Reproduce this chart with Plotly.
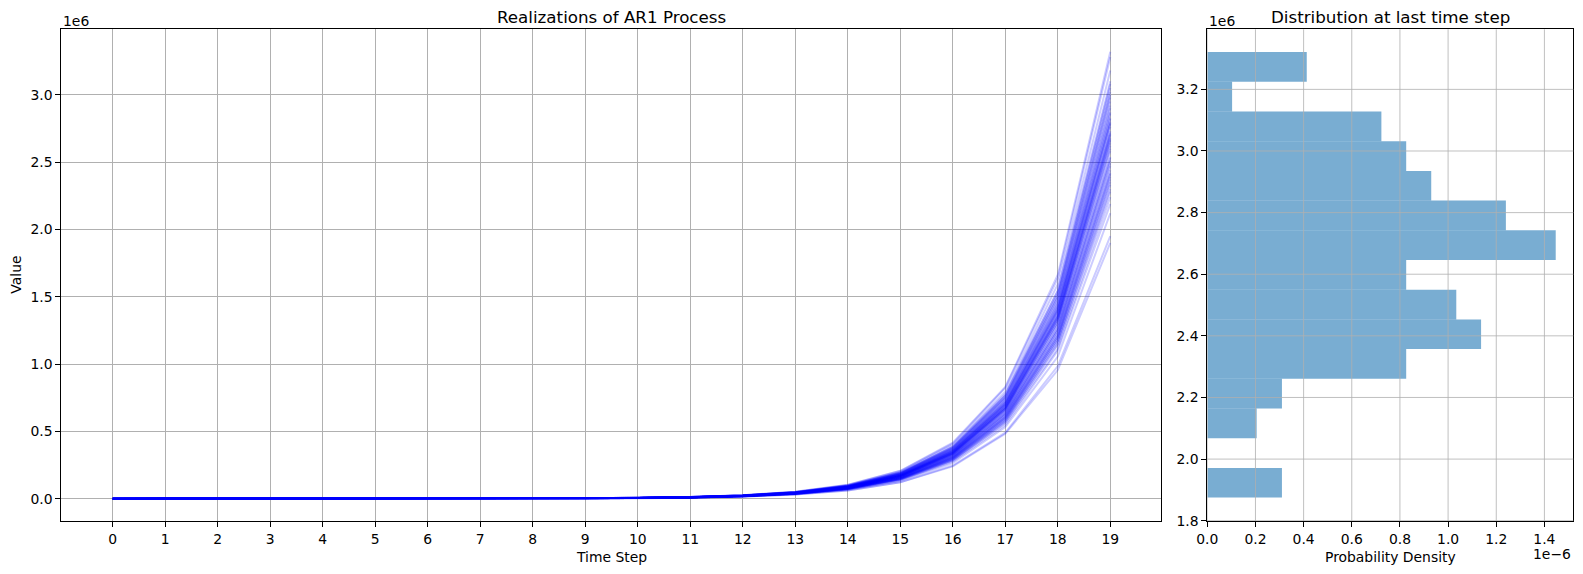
import plotly.graph_objects as go

# ---------------- data ----------------
steps = list(range(20))

# realizations (values in thousands), steps 0..19
paths_k = [
    [0, 0, 0, 0, 0, 0.1, 0.2, 0.5, 0.9, 1.9, 3.7, 7.5, 15.0, 30.0, 60, 121, 240, 482, 955, 1900],
    [0, 0, 0, 0, 0, 0.1, 0.2, 0.5, 1.0, 1.9, 3.8, 7.6, 15.2, 30.5, 61, 122, 246, 490, 985, 1950],
    [0, 0, 0, 0, 0, 0.1, 0.3, 0.5, 1.0, 2.1, 4.1, 8.3, 16.5, 33.0, 66, 133, 264, 532, 1055, 2120],
    [0, 0, 0, 0, 0, 0.1, 0.3, 0.5, 1.1, 2.1, 4.3, 8.6, 17.0, 34.0, 68, 137, 275, 546, 1100, 2190],
    [0, 0, 0, 0, 0, 0.1, 0.3, 0.6, 1.1, 2.2, 4.4, 8.8, 17.5, 35.0, 70, 141, 280, 562, 1115, 2240],
    [0, 0, 0, 0, 0, 0.1, 0.3, 0.6, 1.1, 2.2, 4.4, 8.9, 17.8, 35.6, 71, 142, 286, 568, 1145, 2280],
    [0, 0, 0, 0, 0, 0.1, 0.3, 0.6, 1.1, 2.2, 4.5, 9.0, 18.0, 36.0, 72, 144, 287, 577, 1148, 2300],
    [0, 0, 0, 0, 0, 0.1, 0.3, 0.6, 1.1, 2.3, 4.6, 9.1, 18.2, 36.4, 73, 146, 292, 581, 1170, 2330],
    [0, 0, 0, 0, 0, 0.1, 0.3, 0.6, 1.1, 2.3, 4.6, 9.2, 18.4, 36.7, 73, 147, 293, 589, 1172, 2350],
    [0, 0, 0, 0, 0, 0.1, 0.3, 0.6, 1.2, 2.3, 4.6, 9.3, 18.5, 37.0, 74, 148, 297, 591, 1190, 2370],
    [0, 0, 0, 0, 0, 0.1, 0.3, 0.6, 1.2, 2.3, 4.7, 9.3, 18.7, 37.3, 75, 150, 298, 600, 1192, 2390],
    [0, 0, 0, 0, 0, 0.1, 0.3, 0.6, 1.2, 2.4, 4.7, 9.4, 18.8, 37.6, 75, 151, 302, 601, 1208, 2410],
    [0, 0, 0, 0, 0, 0.1, 0.3, 0.6, 1.2, 2.4, 4.7, 9.5, 18.9, 37.8, 76, 151, 302, 607, 1207, 2420],
    [0, 0, 0, 0, 0, 0.1, 0.3, 0.6, 1.2, 2.4, 4.8, 9.5, 19.1, 38.1, 76, 152, 306, 609, 1223, 2440],
    [0, 0, 0, 0, 0, 0.1, 0.3, 0.6, 1.2, 2.4, 4.8, 9.6, 19.3, 38.6, 77, 155, 308, 619, 1232, 2470],
    [0, 0, 0, 0, 0, 0.2, 0.3, 0.6, 1.2, 2.4, 4.9, 9.7, 19.5, 38.9, 78, 155, 312, 621, 1249, 2490],
    [0, 0, 0, 0, 0, 0.2, 0.3, 0.6, 1.2, 2.5, 4.9, 9.8, 19.6, 39.2, 78, 157, 313, 630, 1252, 2510],
    [0, 0, 0, 0, 0, 0.2, 0.3, 0.6, 1.2, 2.5, 4.9, 9.9, 19.8, 39.5, 79, 158, 317, 631, 1268, 2530],
    [0, 0, 0, 0, 0, 0.2, 0.3, 0.6, 1.2, 2.5, 5.0, 9.9, 19.8, 39.7, 79, 159, 317, 637, 1267, 2540],
    [0, 0, 0, 0, 0, 0.2, 0.3, 0.6, 1.3, 2.5, 5.0, 10.1, 20.2, 40.3, 81, 161, 323, 644, 1293, 2580],
    [0, 0, 0, 0, 0, 0.2, 0.3, 0.6, 1.3, 2.5, 5.1, 10.2, 20.3, 40.6, 81, 163, 324, 652, 1297, 2600],
    [0, 0, 0, 0, 0, 0.2, 0.3, 0.6, 1.3, 2.6, 5.1, 10.2, 20.5, 40.9, 82, 164, 328, 654, 1313, 2620],
    [0, 0, 0, 0, 0, 0.2, 0.3, 0.6, 1.3, 2.6, 5.2, 10.3, 20.6, 41.3, 82, 165, 329, 662, 1317, 2640],
    [0, 0, 0, 0, 0, 0.2, 0.3, 0.7, 1.3, 2.6, 5.2, 10.4, 20.8, 41.6, 83, 166, 333, 664, 1333, 2660],
    [0, 0, 0, 0, 0, 0.2, 0.3, 0.7, 1.3, 2.6, 5.2, 10.4, 20.9, 41.7, 83, 167, 333, 669, 1332, 2670],
    [0, 0, 0, 0, 0, 0.2, 0.3, 0.7, 1.3, 2.6, 5.2, 10.5, 20.9, 41.9, 84, 167, 336, 669, 1343, 2680],
    [0, 0, 0, 0, 0, 0.2, 0.3, 0.7, 1.3, 2.6, 5.3, 10.5, 21.1, 42.2, 84, 169, 337, 677, 1347, 2700],
    [0, 0, 0, 0, 0, 0.2, 0.3, 0.7, 1.3, 2.6, 5.3, 10.6, 21.2, 42.3, 85, 169, 339, 676, 1358, 2710],
    [0, 0, 0, 0, 0, 0.2, 0.3, 0.7, 1.3, 2.7, 5.3, 10.6, 21.3, 42.5, 85, 170, 339, 682, 1357, 2720],
    [0, 0, 0, 0, 0, 0.2, 0.3, 0.7, 1.3, 2.7, 5.3, 10.7, 21.3, 42.7, 85, 170, 342, 681, 1368, 2730],
    [0, 0, 0, 0, 0, 0.2, 0.3, 0.7, 1.3, 2.7, 5.4, 10.8, 21.6, 43.1, 86, 173, 344, 692, 1377, 2760],
    [0, 0, 0, 0, 0, 0.2, 0.3, 0.7, 1.4, 2.7, 5.4, 10.9, 21.7, 43.4, 87, 173, 348, 694, 1393, 2780],
    [0, 0, 0, 0, 0, 0.2, 0.3, 0.7, 1.4, 2.7, 5.4, 10.9, 21.8, 43.6, 87, 175, 348, 700, 1392, 2790],
    [0, 0, 0, 0, 0, 0.2, 0.3, 0.7, 1.4, 2.7, 5.5, 10.9, 21.9, 43.8, 88, 175, 351, 699, 1403, 2800],
    [0, 0, 0, 0, 0, 0.2, 0.3, 0.7, 1.4, 2.8, 5.5, 11.0, 22.0, 44.1, 88, 177, 352, 707, 1407, 2820],
    [0, 0, 0, 0, 0, 0.2, 0.3, 0.7, 1.4, 2.8, 5.5, 11.1, 22.1, 44.2, 89, 176, 355, 706, 1418, 2830],
    [0, 0, 0, 0, 0, 0.2, 0.3, 0.7, 1.4, 2.8, 5.6, 11.2, 22.3, 44.7, 89, 179, 357, 717, 1427, 2860],
    [0, 0, 0, 0, 0, 0.2, 0.3, 0.7, 1.4, 2.8, 5.6, 11.2, 22.4, 44.8, 90, 179, 360, 716, 1438, 2870],
    [0, 0, 0, 0, 0, 0.2, 0.4, 0.7, 1.4, 2.8, 5.7, 11.3, 22.7, 45.3, 91, 182, 362, 727, 1447, 2900],
    [0, 0, 0, 0, 0, 0.2, 0.4, 0.7, 1.4, 2.9, 5.7, 11.4, 22.8, 45.6, 91, 182, 366, 728, 1463, 2920],
    [0, 0, 0, 0, 0, 0.2, 0.4, 0.7, 1.4, 2.9, 5.8, 11.5, 23.0, 46.1, 92, 185, 368, 740, 1472, 2950],
    [0, 0, 0, 0, 0, 0.2, 0.4, 0.7, 1.5, 2.9, 5.8, 11.6, 23.3, 46.6, 93, 186, 373, 744, 1493, 2980],
    [0, 0, 0, 0, 0, 0.2, 0.4, 0.7, 1.5, 2.9, 5.9, 11.7, 23.4, 46.9, 94, 188, 374, 752, 1497, 3000],
    [0, 0, 0, 0, 0, 0.2, 0.4, 0.7, 1.5, 2.9, 5.9, 11.8, 23.6, 47.2, 94, 188, 378, 754, 1513, 3020],
    [0, 0, 0, 0, 0, 0.2, 0.4, 0.7, 1.5, 3.0, 6.0, 11.9, 23.8, 47.7, 95, 191, 380, 765, 1522, 3050],
    [0, 0, 0, 0, 0, 0.2, 0.4, 0.8, 1.5, 3.0, 6.0, 12.0, 24.1, 48.1, 96, 192, 385, 769, 1543, 3080],
    [0, 0, 0, 0, 0, 0.2, 0.4, 0.8, 1.5, 3.0, 6.1, 12.1, 24.2, 48.4, 97, 194, 387, 777, 1547, 3100],
    [0, 0, 0, 0, 0, 0.2, 0.4, 0.8, 1.6, 3.1, 6.2, 12.4, 24.8, 49.7, 99, 198, 398, 794, 1593, 3180],
    [0, 0, 0, 0, 0, 0.2, 0.4, 0.8, 1.6, 3.2, 6.4, 12.8, 25.6, 51.3, 102, 205, 409, 822, 1637, 3280],
    [0, 0, 0, 0, 0, 0.2, 0.4, 0.8, 1.6, 3.2, 6.5, 13.0, 25.9, 51.9, 104, 207, 416, 829, 1663, 3320],
]

step_ticks = list(range(20))
value_ticks_m = [0.0, 0.5, 1.0, 1.5, 2.0, 2.5, 3.0]
value_tick_text = ["0.0", "0.5", "1.0", "1.5", "2.0", "2.5", "3.0"]

# histogram of values at last time step (edges in millions, density in 1e-6)
hist_edges_m = [1.875, 1.971, 2.068, 2.164, 2.261, 2.357, 2.453, 2.550,
                2.646, 2.743, 2.839, 2.935, 3.032, 3.128, 3.225, 3.321]
hist_density_u = [0.31, 0.0, 0.205, 0.31, 0.826, 1.137, 1.034, 0.826,
                  1.447, 1.24, 0.93, 0.826, 0.723, 0.103, 0.413]
dens_ticks_u = [0.0, 0.2, 0.4, 0.6, 0.8, 1.0, 1.2, 1.4]
dens_tick_text = ["0.0", "0.2", "0.4", "0.6", "0.8", "1.0", "1.2", "1.4"]
hist_y_ticks_m = [1.8, 2.0, 2.2, 2.4, 2.6, 2.8, 3.0, 3.2]
hist_y_tick_text = ["1.8", "2.0", "2.2", "2.4", "2.6", "2.8", "3.0", "3.2"]

# ---------------- layout helpers ----------------
W, H = 1583, 574
def px(x):
    return x / W
def py(y):
    return 1 - y / H

FONT = "DejaVu Sans, Arial, sans-serif"
FS = 13.9
GRID = "#b0b0b0"

main_l, main_r, top, bot = 61.3, 1160.7, 29.3, 521.0
hist_l, hist_r = 1207.3, 1573.3

fig = go.Figure()

for p in paths_k:
    fig.add_trace(go.Scatter(
        x=steps, y=[v * 1000 for v in p], mode="lines",
        line=dict(color="rgba(0,0,255,0.2)", width=2),
        xaxis="x", yaxis="y", showlegend=False, hoverinfo="skip"))

centers = [(a + b) / 2 * 1e6 for a, b in zip(hist_edges_m[:-1], hist_edges_m[1:])]
widths = [(b - a) * 1e6 for a, b in zip(hist_edges_m[:-1], hist_edges_m[1:])]
fig.add_trace(go.Bar(
    x=[d * 1e-6 for d in hist_density_u], y=centers, width=widths,
    orientation="h", marker=dict(color="rgba(31,119,180,0.6)", line=dict(width=0)),
    xaxis="x2", yaxis="y2", showlegend=False, hoverinfo="skip"))

axis_common = dict(
    showline=True, linecolor="black", linewidth=1.1, mirror=True,
    ticks="outside", ticklen=4.9, tickwidth=1.1, tickcolor="black",
    zeroline=False, automargin=False,
    tickfont=dict(family=FONT, size=FS, color="black"),
)

shapes = []
for t in dens_ticks_u:
    shapes.append(dict(type="line", xref="x2", yref="y2 domain",
                       x0=t * 1e-6, x1=t * 1e-6, y0=0, y1=1,
                       line=dict(color=GRID, width=0.8), layer="above"))
for t in hist_y_ticks_m:
    shapes.append(dict(type="line", xref="x2 domain", yref="y2",
                       x0=0, x1=1, y0=t * 1e6, y1=t * 1e6,
                       line=dict(color=GRID, width=0.8), layer="above"))

ann = []
def text(x, y, s, size=FS, xanchor="center", yanchor="middle", angle=0):
    ann.append(dict(x=px(x), y=py(y), xref="paper", yref="paper", text=s,
                    showarrow=False, xanchor=xanchor, yanchor=yanchor,
                    textangle=angle,
                    font=dict(family=FONT, size=size, color="black")))

text((main_l + main_r) / 2, 17.0, "Realizations of AR1 Process", size=16.7)
text((hist_l + hist_r) / 2, 17.0, "Distribution at last time step", size=16.7)
text((main_l + main_r) / 2, 556.5, "Time Step")
text(16.5, (top + bot) / 2, "Value", angle=-90)
text((hist_l + hist_r) / 2, 556.5, "Probability Density")
text(main_l, 21.0, "1e6", xanchor="left")
text(hist_l, 21.0, "1e6", xanchor="left")
text(hist_r, 554.0, "1e\u22126", xanchor="right")

fig.update_layout(
    width=W, height=H,
    margin=dict(l=0, r=0, t=0, b=0, autoexpand=False),
    paper_bgcolor="white", plot_bgcolor="white",
    showlegend=False,
    font=dict(family=FONT, size=FS, color="black"),
    xaxis=dict(domain=[px(main_l), px(main_r)], range=[-0.98, 19.96],
               tickvals=step_ticks, ticktext=[str(s) for s in step_ticks],
               showgrid=True, gridcolor=GRID, gridwidth=0.8, anchor="y",
               **axis_common),
    yaxis=dict(domain=[py(bot), py(top)], range=[-0.166e6, 3.486e6],
               tickvals=[v * 1e6 for v in value_ticks_m], ticktext=value_tick_text,
               showgrid=True, gridcolor=GRID, gridwidth=0.8, anchor="x",
               **axis_common),
    xaxis2=dict(domain=[px(hist_l), px(hist_r)], range=[0, 1.52e-6],
                tickvals=[t * 1e-6 for t in dens_ticks_u], ticktext=dens_tick_text,
                showgrid=False, anchor="y2", **axis_common),
    yaxis2=dict(domain=[py(bot), py(top)], range=[1.799e6, 3.395e6],
                tickvals=[t * 1e6 for t in hist_y_ticks_m], ticktext=hist_y_tick_text,
                showgrid=False, anchor="x2", **axis_common),
    shapes=shapes,
    annotations=ann,
)

fig.write_html("out.html")
